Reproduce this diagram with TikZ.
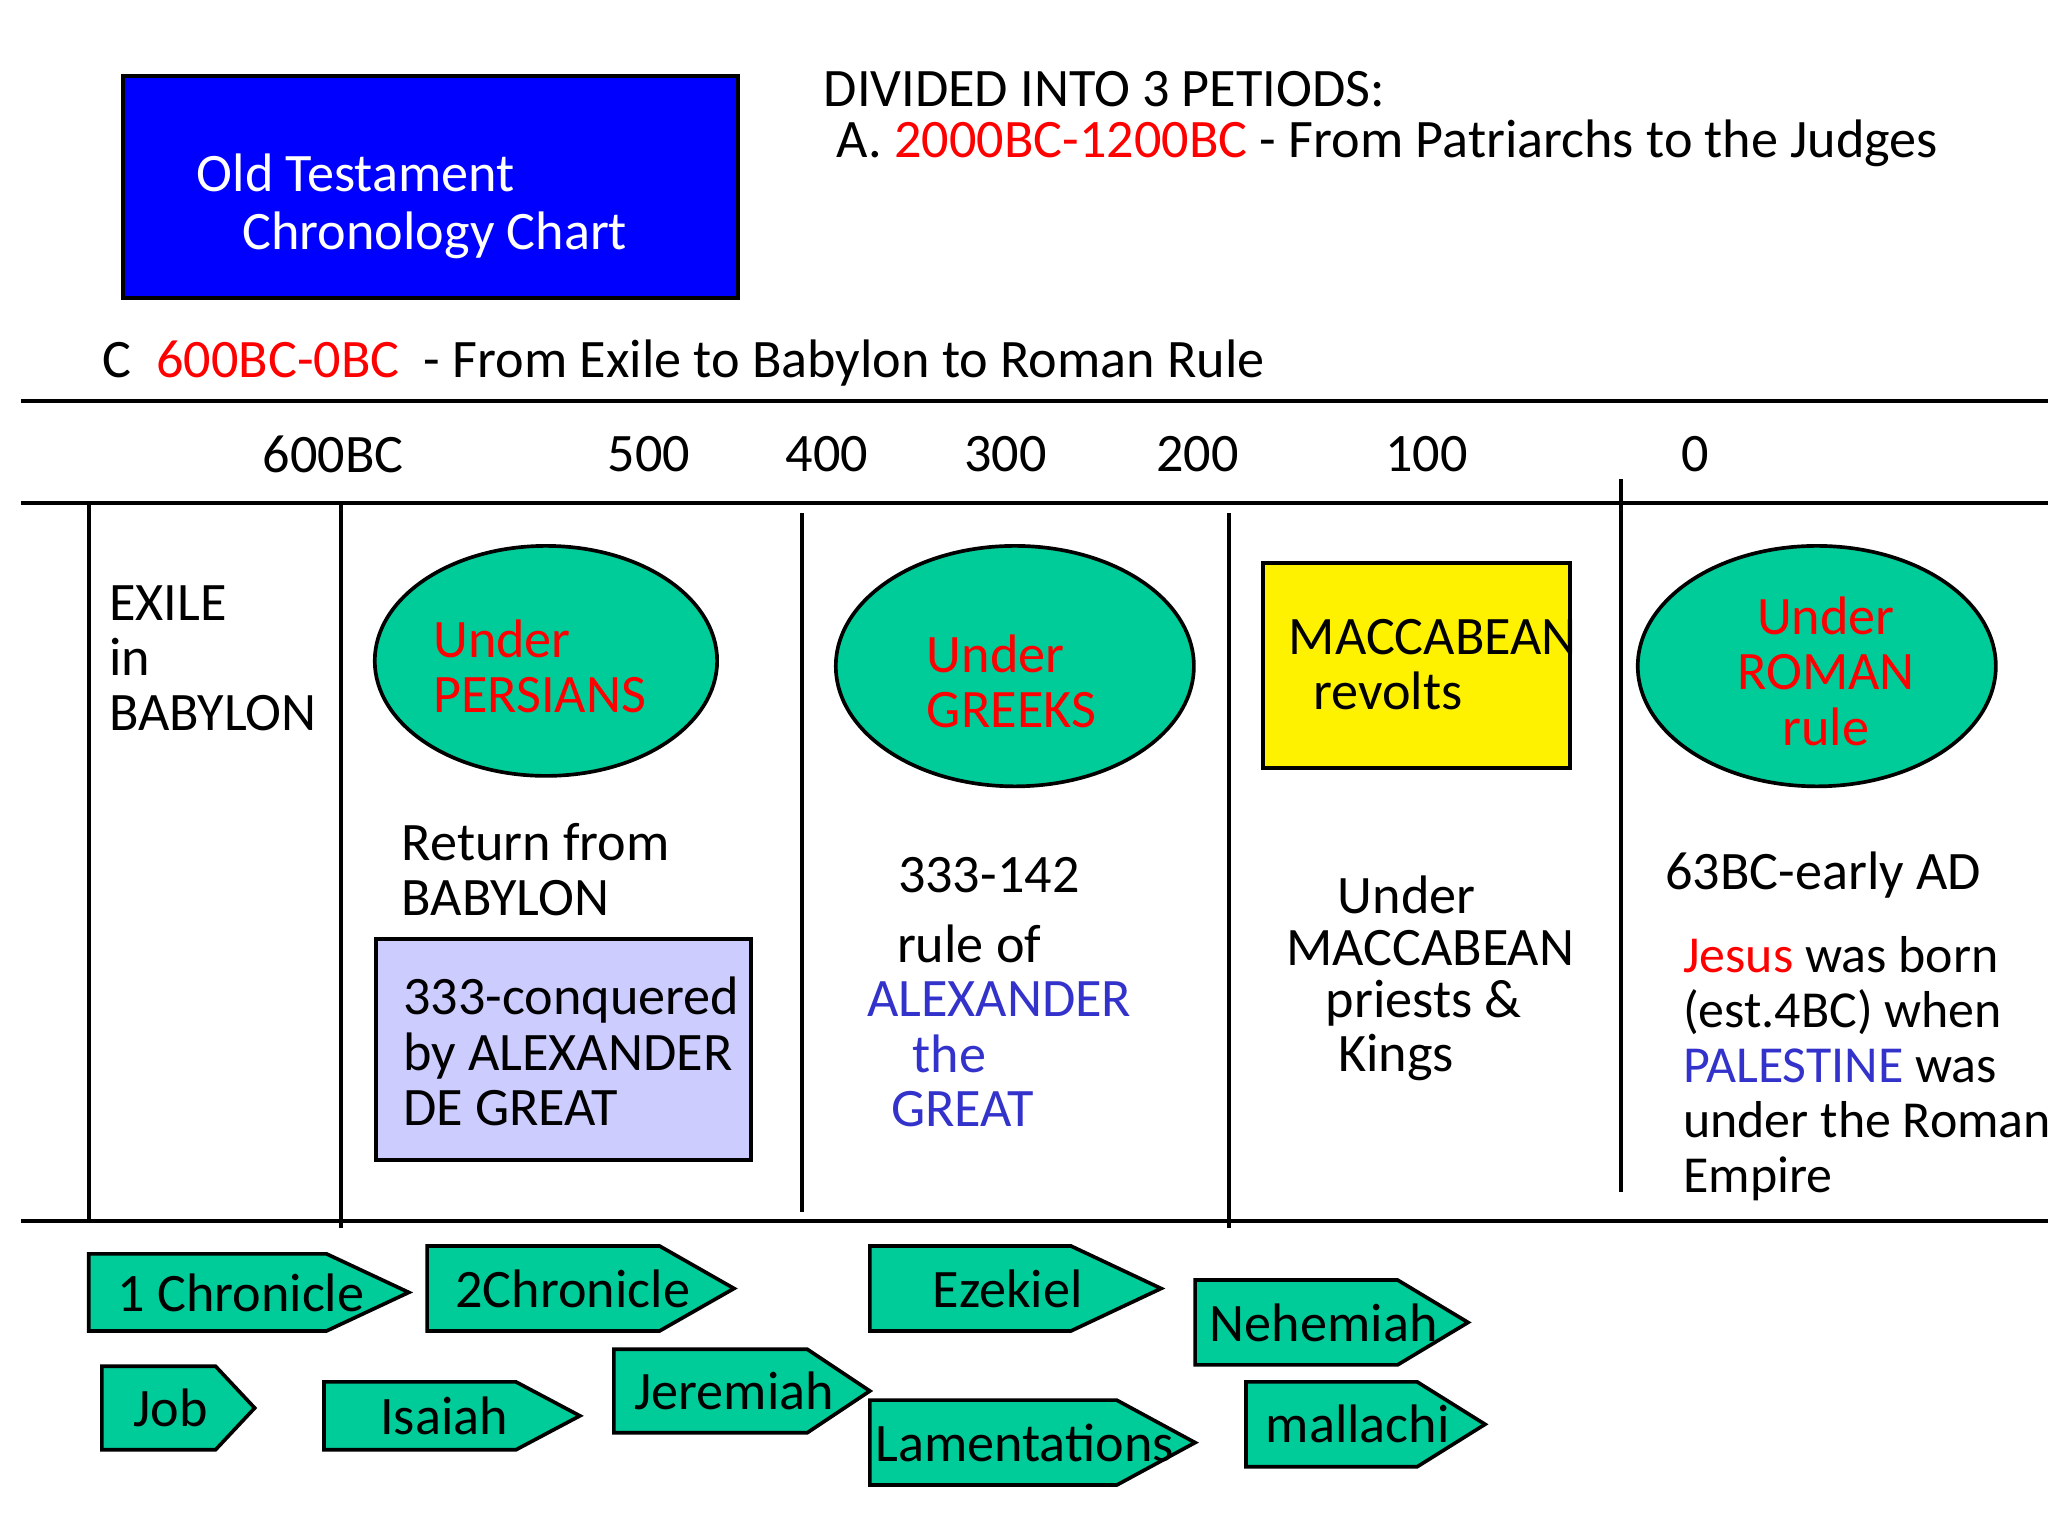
\documentclass[tikz,border=0pt]{standalone}
\usepackage{fontspec}
\usetikzlibrary{shapes.geometric}
\setmainfont{Carlito}
\definecolor{grn}{HTML}{00CC99}
\definecolor{bl}{HTML}{3333CC}
\definecolor{lav}{HTML}{CCCCFF}
\tikzset{t/.style={font=\fontsize{11.8}{12}\selectfont,inner sep=0pt},
 tl/.style={t,anchor=west},
 ell/.style={draw,fill=grn,line width=0.8pt},
 ln/.style={line width=0.8pt}}
\newcommand{\bookarrow}[7]{% name,x1,y1,x2,y2,xp,text
 \fill[grn] (#2,#3)--(#6,#3)--(#4,{(#3+#5)/2})--(#6,#5)--(#2,#5)--cycle;
 \draw[ln] (#2,#3)--(#6,#3)--(#4,{(#3+#5)/2})--(#6,#5)--(#2,#5)--cycle;
 \node[t] (#1) at ({(#2+#4)/2-6},{(#3+#5)/2}) {#7};}
\begin{document}
\begin{tikzpicture}[x=0.01cm,y=-0.01cm]
\useasboundingbox (0,0) rectangle (1568,1176);
\draw[fill=blue,ln] (94,58) rectangle (565,228);
\node[tl,text=white] (ot1) at (150,132) {Old Testament};
\node[tl,text=white] (ot2) at (185,180) {Chronology Chart};
\node[tl] (div) at (630,68) {DIVIDED INTO 3 PETIODS:};
\node[tl] (pa) at (640,110) {A. \textcolor{red}{2000BC-1200BC} - From Patriarchs to the Judges};
\node[tl] (pc) at (78,278) {C\ \ \textcolor{red}{600BC-0BC}\ \ - From Exile to Babylon to Roman Rule};
\foreach \y in {307,385,935} \draw[ln] (16,\y)--(1568,\y);
\foreach \n/\x/\s in {y6/255/600BC,y5/497/500,y4/633/400,y3/770/300,y2/917/200,y1/1092/100,y0/1298/0}
 \node[t] (\n) at (\x,348) {\s};
\draw[ln] (68,385)--(68,935);
\draw[ln] (261,385)--(261,940);
\draw[ln] (614,393)--(614,928);
\draw[ln] (941,393)--(941,940);
\draw[ln] (1241,367)--(1241,913);
\node[tl,align=left] (ex) at (83,504) {EXILE\\in\\BABYLON};
\node[ell,ellipse,minimum width=2.62cm,minimum height=1.76cm,inner sep=0pt] (e1) at (418,506) {};
\node[t,text=red,align=left,anchor=west] at (331,510) {Under\\PERSIANS};
\node[ell,ellipse,minimum width=2.74cm,minimum height=1.84cm,inner sep=0pt] (e2) at (777,510) {};
\node[t,text=red,align=left,anchor=west] at (709,522) {Under\\GREEKS};
\node[ell,ellipse,minimum width=2.74cm,minimum height=1.84cm,inner sep=0pt] (e3) at (1391,510) {};
\node[t,text=red,align=center] at (1398,514) {Under\\ROMAN\\rule};
\draw[fill=yellow,ln] (967,431) rectangle (1202,588);
\node[tl,align=left] (mac) at (986,509) {MACCABEAN\\\ \ revolts};
\node[tl,align=left] (ret) at (307,666) {Return from\\BABYLON};
\draw[fill=lav,ln] (288,719) rectangle (575,888);
\node[tl,align=left] (conq) at (308,805) {333-conquered\\by ALEXANDER\\DE GREAT};
\node[t] (g1) at (757,670) {333-142};
\node[t] (g2) at (742,723) {rule of};
\node[t,text=bl] (g3) at (765,765) {ALEXANDER};
\node[t,text=bl] (g4) at (727,807) {the};
\node[t,text=bl] (g5) at (737,849) {GREAT};
\node[t] (m1) at (1077,685) {Under};
\node[t] (m2) at (1095,726) {MACCABEAN};
\node[t] (m3) at (1090,768) {priests \&};
\node[t] (m4) at (1069,810) {Kings};
\node[t] (r0) at (1396,670) {63BC-early AD};
\node[tl,align=left,font=\fontsize{11.3}{12}\selectfont] (r1) at (1288,818) {\textcolor{red}{Jesus} was born\\(est.4BC) when\\\textcolor{bl}{PALESTINE} was\\under the Roman\\Empire};
\bookarrow{b1}{68}{960}{313}{1019}{250}{1 Chronicle}
\bookarrow{b2}{327}{954}{562}{1019}{505}{2Chronicle}
\bookarrow{b3}{666}{954}{889}{1019}{820}{Ezekiel}
\bookarrow{b4}{915}{980}{1124}{1045}{1070}{Nehemiah}
\bookarrow{b5}{78}{1046}{195}{1110}{165}{Job}
\bookarrow{b6}{248}{1058}{444}{1110}{395}{Isaiah}
\bookarrow{b7}{470}{1033}{666}{1097}{618}{Jeremiah}
\bookarrow{b8}{666}{1072}{915}{1137}{855}{Lamentations}
\bookarrow{b9}{954}{1058}{1137}{1123}{1085}{mallachi}
\end{tikzpicture}
\end{document}
